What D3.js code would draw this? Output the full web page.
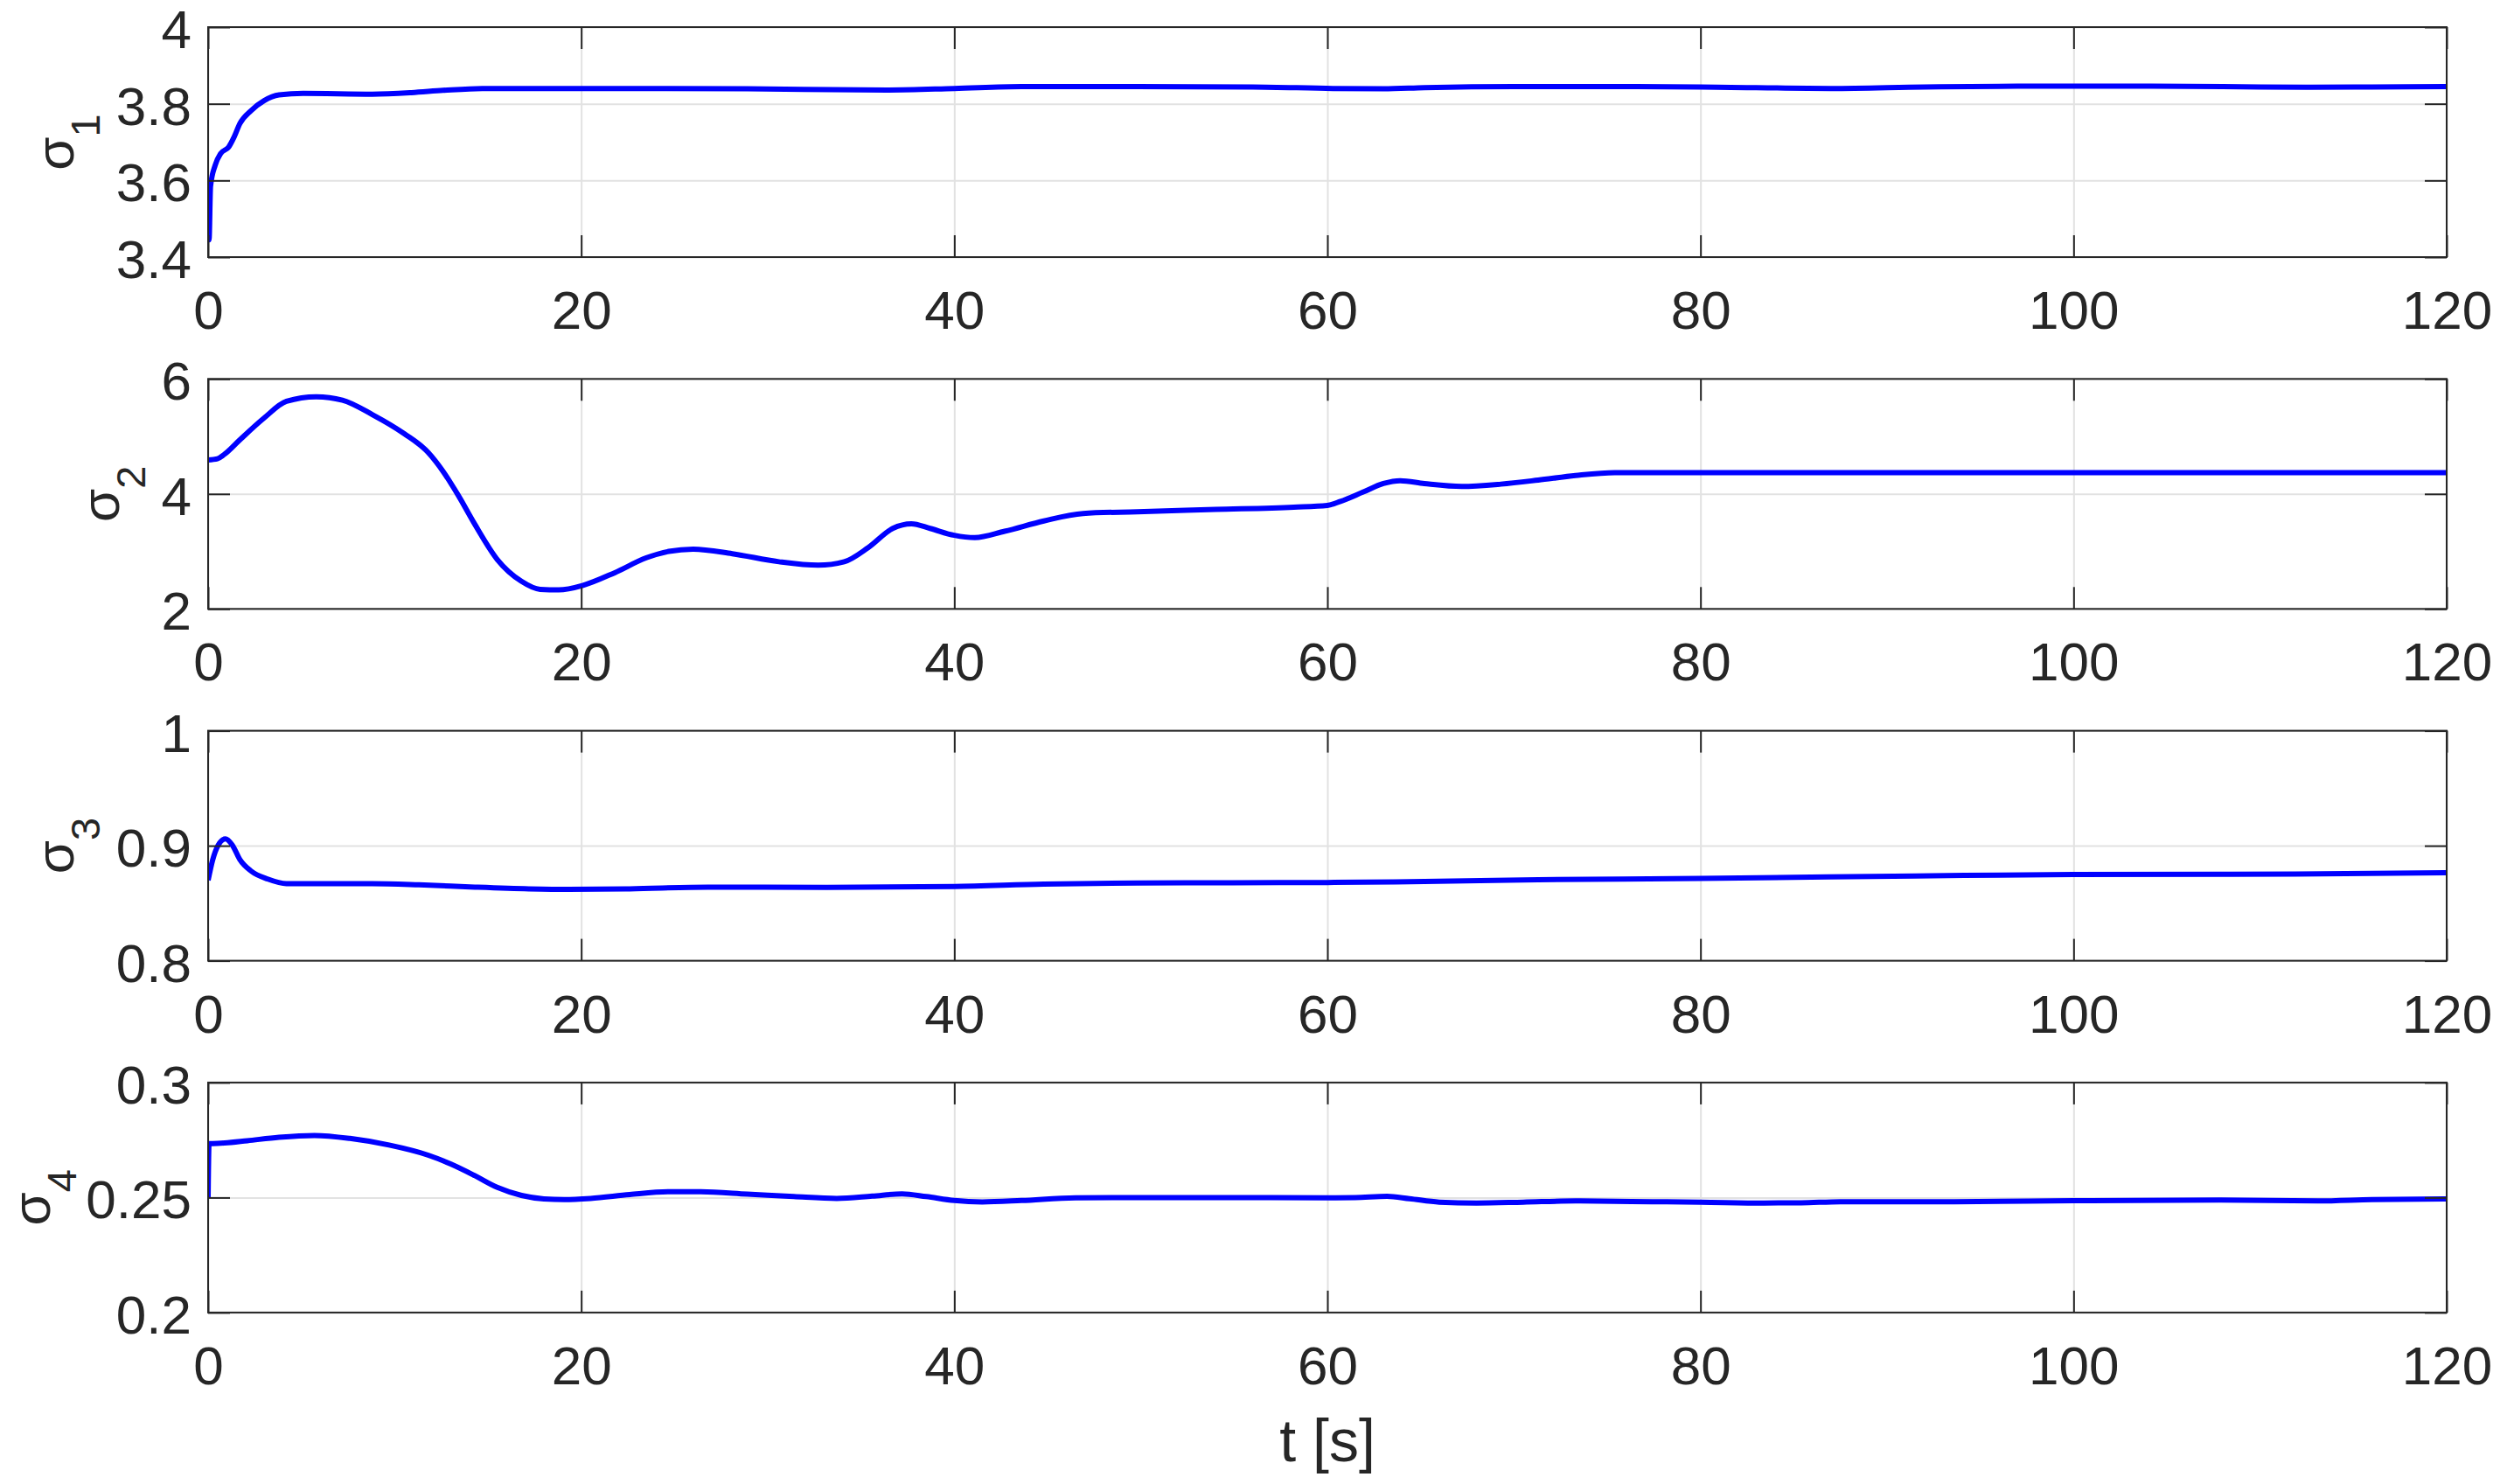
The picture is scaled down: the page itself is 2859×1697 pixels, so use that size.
<!DOCTYPE html>
<html>
<head>
<meta charset="utf-8">
<script src="https://cdn.jsdelivr.net/npm/d3@7"></script>
<style>
body { margin: 0; background: #fff; }
svg { display: block; font-family: "Liberation Sans", Arial, Helvetica, sans-serif; }
</style>
</head>
<body>
<div id="chart"></div>
<script>
// time ticks shared by all four panels
const xTicks = [0, 20, 40, 60, 80, 100, 120];

// sigma 1
const t1 = [0, 0.05, 0.13, 0.38, 0.67, 1.1, 1.4, 1.7, 2.3, 3.0, 3.8, 5.1, 8.8, 10.9, 12.6, 14.7, 20, 28.9, 36.4, 40, 43.6, 49.8, 56, 60.3, 63, 65.2, 70, 75, 80, 87, 92, 97, 103, 108, 112.7, 116, 120];
const s1 = [3.465, 3.445, 3.585, 3.64, 3.67, 3.687, 3.714, 3.748, 3.782, 3.808, 3.823, 3.827, 3.825, 3.829, 3.835, 3.840, 3.840, 3.839, 3.836, 3.840, 3.845, 3.845, 3.844, 3.840, 3.839, 3.842, 3.845, 3.845, 3.844, 3.840, 3.844, 3.846, 3.846, 3.845, 3.843, 3.844, 3.845];
const yTicks1 = [3.4, 3.6, 3.8, 4];

// sigma 2
const t2 = [0, 0.5, 0.88, 1.7, 3.0, 4.2, 5.8, 7.2, 8.8, 10.5, 11.8, 12.6, 13.4, 14.3, 15.5, 16.8, 17.8, 18.8, 20.1, 21.8, 23.5, 24.7, 26, 28.1, 30.6, 32.7, 34.1, 35.4, 36.7, 37.7, 38.7, 40, 41.1, 42.7, 44.8, 46.9, 49.8, 54, 58.2, 60, 60.7, 61.9, 63, 63.9, 65.2, 67.2, 69.3, 71.3, 73.3, 75.4, 77, 120];
const s2 = [4.59, 4.61, 4.69, 4.94, 5.32, 5.61, 5.69, 5.63, 5.38, 5.05, 4.72, 4.39, 3.98, 3.47, 2.86, 2.48, 2.34, 2.33, 2.41, 2.63, 2.89, 3.0, 3.04, 2.96, 2.82, 2.76, 2.82, 3.07, 3.40, 3.48, 3.40, 3.28, 3.24, 3.35, 3.53, 3.66, 3.69, 3.73, 3.77, 3.80, 3.87, 4.03, 4.18, 4.23, 4.18, 4.13, 4.17, 4.24, 4.32, 4.37, 4.37, 4.37];
const yTicks2 = [2, 4, 6];

// sigma 3
const t3 = [0, 0.25, 0.54, 0.92, 1.3, 1.7, 2.3, 3.2, 4.2, 5.9, 8.8, 11.3, 14.3, 17.2, 19.3, 22.6, 26.8, 33.1, 40, 44.8, 49.8, 60, 65.2, 71.3, 80, 91.5, 100, 111.9, 120];
const s3 = [0.870, 0.888, 0.9005, 0.906, 0.9005, 0.888, 0.878, 0.871, 0.867, 0.867, 0.867, 0.866, 0.864, 0.8625, 0.862, 0.8625, 0.864, 0.8638, 0.8646, 0.8666, 0.8676, 0.868, 0.8689, 0.8704, 0.8716, 0.8737, 0.875, 0.8753, 0.8765];
const yTicks3 = [0.8, 0.9, 1];

// sigma 4
const t4 = [0, 0.05, 0.88, 2.1, 3.8, 5.7, 7.6, 9.7, 11.8, 13, 14.3, 15.5, 16.8, 18, 19.1, 20.5, 22.6, 24.7, 26.4, 28.9, 31.4, 33.7, 35.6, 37.2, 38.5, 40, 41.5, 43.6, 46.5, 54, 60, 61.5, 63.2, 64.4, 66, 68, 70.5, 73.3, 77.4, 80, 83.4, 85.4, 87.5, 93.6, 100, 107.8, 113.1, 116, 120];
const s4 = [0.25, 0.2734, 0.2737, 0.2747, 0.2762, 0.277, 0.2757, 0.2728, 0.2684, 0.2646, 0.2595, 0.2544, 0.2509, 0.2494, 0.2491, 0.2496, 0.2513, 0.2525, 0.2525, 0.2515, 0.2504, 0.2496, 0.2506, 0.2516, 0.2504, 0.2487, 0.2481, 0.2487, 0.2499, 0.25, 0.2499, 0.25, 0.2505, 0.2495, 0.248, 0.2476, 0.248, 0.2485, 0.2482, 0.248, 0.2476, 0.2477, 0.2482, 0.2482, 0.2486, 0.2489, 0.2485, 0.2491, 0.2494];
const yTicks4 = [0.2, 0.25, 0.3];

const panels = [
  {t: t1, s: s1, ticks: yTicks1, sub: "1"},
  {t: t2, s: s2, ticks: yTicks2, sub: "2"},
  {t: t3, s: s3, ticks: yTicks3, sub: "3"},
  {t: t4, s: s4, ticks: yTicks4, sub: "4"}
];

// chart dimensions
const width = 2859;
const height = 1697;
const marginLeft = 238;
const marginRight = 61;
const panelTop = 31;
const panelStep = 402.3;
const panelHeight = 263;
const tickLen = 25;
const axisColor = "#262626";

const svg = d3.select("#chart")
    .append("svg")
    .attr("width", width)
    .attr("height", height)
    .attr("viewBox", [0, 0, width, height]);

svg.append("rect").attr("width", width).attr("height", height).attr("fill", "#fff");

const x = d3.scaleLinear()
    .domain([0, 120])
    .range([marginLeft, width - marginRight]);

panels.forEach((p, i) => {
  const top = panelTop + i * panelStep;
  const bottom = top + panelHeight;
  const y = d3.scaleLinear()
      .domain([p.ticks[0], p.ticks[p.ticks.length - 1]])
      .range([bottom, top]);

  const g = svg.append("g");

  // grid lines
  g.append("g")
      .attr("transform", `translate(0,${bottom})`)
      .call(d3.axisBottom(x).tickValues(xTicks).tickSize(-panelHeight).tickFormat(""))
      .call(s => s.select(".domain").remove())
      .selectAll("line").attr("stroke", "#e2e2e2").attr("stroke-width", 2);
  g.append("g")
      .attr("transform", `translate(${marginLeft},0)`)
      .call(d3.axisLeft(y).tickValues(p.ticks).tickSize(-(width - marginRight - marginLeft)).tickFormat(""))
      .call(s => s.select(".domain").remove())
      .selectAll("line").attr("stroke", "#e2e2e2").attr("stroke-width", 2);

  // data line, clipped to the axes
  const clipId = "clip" + i;
  g.append("clipPath").attr("id", clipId)
    .append("rect")
      .attr("x", marginLeft).attr("y", top)
      .attr("width", width - marginRight - marginLeft).attr("height", panelHeight);

  const pts = p.t.map((t, j) => [t, p.s[j]]);
  g.append("path")
      .datum(pts)
      .attr("clip-path", `url(#${clipId})`)
      .attr("fill", "none")
      .attr("stroke", "#0000ff")
      .attr("stroke-width", 6)
      .attr("stroke-linejoin", "round")
      .attr("d", d3.line().x(d => x(d[0])).y(d => y(d[1])).curve(d3.curveMonotoneX));

  // bottom axis with labels
  const xa = g.append("g")
      .attr("transform", `translate(0,${bottom})`)
      .call(d3.axisBottom(x).tickValues(xTicks).tickSizeInner(-tickLen).tickSizeOuter(0).tickPadding(38));
  // top axis ticks only
  const xt = g.append("g")
      .attr("transform", `translate(0,${top})`)
      .call(d3.axisTop(x).tickValues(xTicks).tickSizeInner(-tickLen).tickSizeOuter(0).tickFormat(""));
  // left axis with labels
  const ya = g.append("g")
      .attr("transform", `translate(${marginLeft},0)`)
      .call(d3.axisLeft(y).tickValues(p.ticks).tickSizeInner(-tickLen).tickSizeOuter(0).tickPadding(19).tickFormat(d => String(d)));
  // right axis ticks only
  const yr = g.append("g")
      .attr("transform", `translate(${width - marginRight},0)`)
      .call(d3.axisRight(y).tickValues(p.ticks).tickSizeInner(-tickLen).tickSizeOuter(0).tickFormat(""));

  [xa, xt, ya, yr].forEach(a => {
    a.select(".domain").remove();
    a.selectAll("line").attr("stroke", axisColor).attr("stroke-width", 2);
    a.selectAll("text")
        .attr("fill", axisColor)
        .style("font-size", "62px")
        .style("font-family", "'Liberation Sans', Arial, sans-serif");
  });
  ya.selectAll("text").attr("dy", "0.38em");

  // box around the axes
  g.append("rect")
      .attr("x", marginLeft).attr("y", top)
      .attr("width", width - marginRight - marginLeft).attr("height", panelHeight)
      .attr("fill", "none")
      .attr("stroke", axisColor)
      .attr("stroke-width", 2);

  // y label, placed left of the widest tick label
  const labelLeft = d3.min(ya.selectAll("text").nodes(), n => n.getBoundingClientRect().left);
  const subShift = 30;
  const lx = Math.max(labelLeft - 19 - subShift, 57);
  const ly = (top + bottom) / 2;
  const lab = svg.append("text")
      .attr("transform", `translate(${lx},${ly}) rotate(-90)`)
      .attr("text-anchor", "middle")
      .attr("fill", axisColor)
      .style("font-size", "62px");
  lab.append("tspan").text("σ");
  lab.append("tspan").attr("dy", subShift).style("font-size", "47px").text(p.sub);
});

// x label
svg.append("text")
    .attr("x", (marginLeft + width - marginRight) / 2)
    .attr("y", 1671)
    .attr("text-anchor", "middle")
    .attr("fill", axisColor)
    .style("font-size", "68px")
    .text("t [s]");
</script>
</body>
</html>
